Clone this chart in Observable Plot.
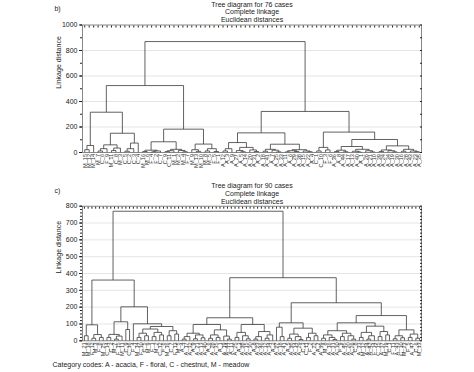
<!DOCTYPE html>
<html><head><meta charset="utf-8">
<script src="https://cdn.jsdelivr.net/npm/d3@7"></script>
<script src="https://cdn.jsdelivr.net/npm/@observablehq/plot@0.6"></script>
<style>
html,body{margin:0;padding:0;background:#fff;}
#wrap{position:relative;width:474px;height:372px;overflow:hidden;background:#fff;font-family:"Liberation Sans",Arial,sans-serif;}
#b{position:absolute;left:0;top:0;}
#c{position:absolute;left:0;top:172px;}
</style></head><body><div id="wrap"><div id="b"></div><div id="c"></div></div>
<script>
// ---- leaf labels (left to right) ----
const labelsB = ["M_15","M_12","M_14","M_7","C_6","F_9","M_11","C_8","M_3","C_5","C_2","C_3","C_4","M_16","M_6","F_4","F_2","C_7","C_9","C_11","M_1","M_2","M_4","F_7","M_9","M_13","M_10","M_8","M_5","F_5","F_1",
 "A_12","A_3","A_9","A_27","A_5","A_14","A_20","A_31","A_2","A_18","A_41","A_7","A_25","A_33","A_11","A_6","A_29","A_38","A_15","A_22","A_4","C_1","C_10","F_3","F_6","A_36","A_8","A_44","A_17","A_13","A_40","A_1","A_26","A_21","A_10","A_39","A_24","A_34","A_19","A_30","A_16","A_28","A_43","A_23","A_35"];
const labelsC = ["M_21","M_18","F_12","M_3","F_8","M_25","C_14","C_2","M_7","F_15","M_11","C_9","C_16","F_4","M_14","F_10","C_5","M_9","F_1","M_2","C_12","F_6","M_16","C_7","F_13","M_5",
 "A_4","A_17","A_32","A_9","A_21","A_13","A_40","A_6","A_28","A_35","A_1","A_19","A_44","A_11","A_25","A_3","A_38","A_15","A_30","A_8","A_23","A_46","A_12","A_34","A_2","A_27","A_18","A_41","A_5","A_36","A_14","A_29","C_3","C_11","F_2","A_22","A_7","A_39","M_8","A_16","A_31","A_10","F_9","A_45","A_20","A_26","C_8","A_33","M_12","A_24","A_42","F_14","C_15","A_37","M_19","C_1","F_11","A_43","C_10","M_23","F_5","A_47","C_6","M_13"];

// ---- axis ticks ----
const yTicksB = [0, 200, 400, 600, 800, 1000];
const yMinorB = [0, 100, 200, 300, 400, 500, 600, 700, 800, 900, 1000];
const yTicksC = [0, 100, 200, 300, 400, 500, 600, 700, 800];
const yMinorC = d3.range(0, 801, 20);

// ---- trees: [linkage distance, left, right]; integers are leaf positions ----
const bLL = [316, [55,[22,0,1],2], [151, [60,[30,[12,3,4],5],[35,[15,6,7],8]], [74,[30,[10,9,10],11],12]]];
const bLR = [183, [84,[18,[8,13,14],[12,[5,15,16],17]],[25,[14,[7,18,19],20],[16,21,[6,22,23]]]], [66,[22,24,[9,25,26]],[30,[12,27,28],[8,29,30]]]];
const bRL = [154, [78,[30,[12,31,32],33],[40,[15,34,[6,35,36]],[20,37,[8,38,39]]]], [65,[25,[10,40,41],[18,42,[5,43,44]]],[22,[14,[5,45,46],[8,47,48]],[12,49,[6,50,51]]]]];
const bRR = [160, [40,[12,52,53],[20,54,55]], [102,[47,[18,[8,56,57],[6,58,59]],[25,[10,60,[4,61,62]],[14,63,[5,64,65]]]],[52,[20,[8,66,67],[14,68,[5,69,70]]],[25,[10,71,72],[12,73,[6,74,75]]]]]];
const treeB = [870, [525, bLL, bLR], [322, bRL, bRR]];

const cLL  = [95, [30,0,1], [37,[15,2,3],[20,4,5]]];
const cLRa = [113, [38,[20,6,7],[28,[10,8,9],10]], [67,11,12]];
const cLRb = [101, 13, [85,[70,[45,[20,14,15],[30,16,17]],[50,[25,18,19],[35,20,21]]],[60,[30,22,23],[40,24,25]]]];
const cRLa = [97, [45,[25,[10,26,27],28],[35,[12,29,30],[18,31,32]]], [65,[35,[15,33,34],[20,35,36]],[28,37,[10,38,39]]]];
const cRLb = [97, [50,[20,40,41],[30,42,[12,43,44]]], [55,[25,[10,45,46],47],[35,[15,48,49],50]]];
const cRRa = [107, [81,51,[25,52,53]], [75,[40,[15,54,55],[25,56,[8,57,58]]],[45,[20,59,60],[30,61,62]]]];
const cRRb = [150, [107,[60,[35,[15,63,64],[20,65,[8,66,67]]],[45,[25,68,69],[30,70,[10,71,72]]]],[87,[50,[20,73,74],[30,[10,75,76],77]],[55,[25,78,79],[35,80,81]]]], [65,[30,[12,82,83],[18,84,85]],[40,[20,86,87],[15,88,89]]]];
const treeC = [770, [361, cLL, [202, cLRa, cLRb]], [375, [137, cRLa, cRLb], [226, cRRa, cRRb]]];

function segments(tree) {
  const segs = [];
  (function walk(node) {
    if (typeof node === "number") return {x: node, h: 0};
    const [h, a, b] = node;
    const L = walk(a), R = walk(b);
    segs.push({x1: L.x, y1: L.h, x2: L.x, y2: h});
    segs.push({x1: R.x, y1: R.h, x2: R.x, y2: h});
    segs.push({x1: L.x, y1: h, x2: R.x, y2: h});
    return {x: (L.x + R.x) / 2, h};
  })(tree);
  return segs;
}

function dendro(o) {
  const n = o.labels.length, idx = d3.range(n);
  const marks = [
    Plot.gridY(o.yTicks.filter(v => v > 0 && v < o.yMax), {stroke: "#d4d4d4", strokeOpacity: 1, strokeWidth: 0.6}),
    Plot.link(segments(o.tree), {x1: "x1", y1: "y1", x2: "x2", y2: "y2", stroke: "#3a3a3a", strokeWidth: 0.8}),
    Plot.frame({stroke: "#6a6a6a", strokeWidth: 0.8}),
    Plot.axisY(o.yTicks, {anchor: "left", tickSize: 3, tickPadding: 2, tickFormat: d => `${d}`, label: null}),
    Plot.axisY(o.yMinor, {anchor: "left", tickSize: 2, tickFormat: () => "", label: null}),
    Plot.axisY(o.yMinor, {anchor: "right", tickSize: -2, tickFormat: () => "", label: null}),
    Plot.axisX(idx, {anchor: "top", tickSize: -2, tickFormat: () => "", label: null}),
    Plot.axisX(idx, {anchor: "bottom", tickSize: 0, tickPadding: 1.5, tickRotate: -90, tickFormat: i => o.labels[i], fontSize: 5.6, fill: "#333", label: null}),
    Plot.text([o.title], {text: d => d, frameAnchor: "top", dy: o.titleDy, lineAnchor: "bottom", lineHeight: o.lineHeight}),
    Plot.text(["Linkage distance"], {text: d => d, frameAnchor: "left", rotate: -90, dx: -24}),
    Plot.text([o.tag], {text: d => d, frameAnchor: "top-left", dx: -25, dy: o.tagDy, textAnchor: "middle"})
  ];
  if (o.caption) marks.push(Plot.text([o.caption], {text: d => d, frameAnchor: "bottom-left", dx: -30, dy: o.captionDy, textAnchor: "start"}));
  return Plot.plot({
    width: 474, height: o.height,
    marginLeft: 82, marginRight: 53, marginTop: o.top, marginBottom: o.bottom,
    x: {domain: [-0.5, n - 0.5], axis: null},
    y: {domain: [0, o.yMax], axis: null},
    style: {fontFamily: "'Liberation Sans', Arial, sans-serif", fontSize: "7px", color: "#222", background: "#fff"},
    marks
  });
}

document.getElementById("b").append(dendro({
  tree: treeB, labels: labelsB, yMax: 1000, yTicks: yTicksB, yMinor: yMinorB,
  height: 172, top: 24.5, bottom: 20,
  title: "Tree diagram for 76 cases\nComplete linkage\nEuclidean distances", titleDy: -3.5, lineHeight: 1.05,
  tag: "b)", tagDy: -18.5
}));
document.getElementById("c").append(dendro({
  tree: treeC, labels: labelsC, yMax: 800, yTicks: yTicksC, yMinor: yMinorC,
  height: 200, top: 33.7, bottom: 31.7,
  title: "Tree diagram for 90 cases\nComplete linkage\nEuclidean distances", titleDy: -2.7, lineHeight: 1.1,
  tag: "c)", tagDy: -18.5,
  caption: "Category codes: A - acacia, F - floral, C - chestnut, M - meadow", captionDy: 25.7
}));
</script>
</body></html>
